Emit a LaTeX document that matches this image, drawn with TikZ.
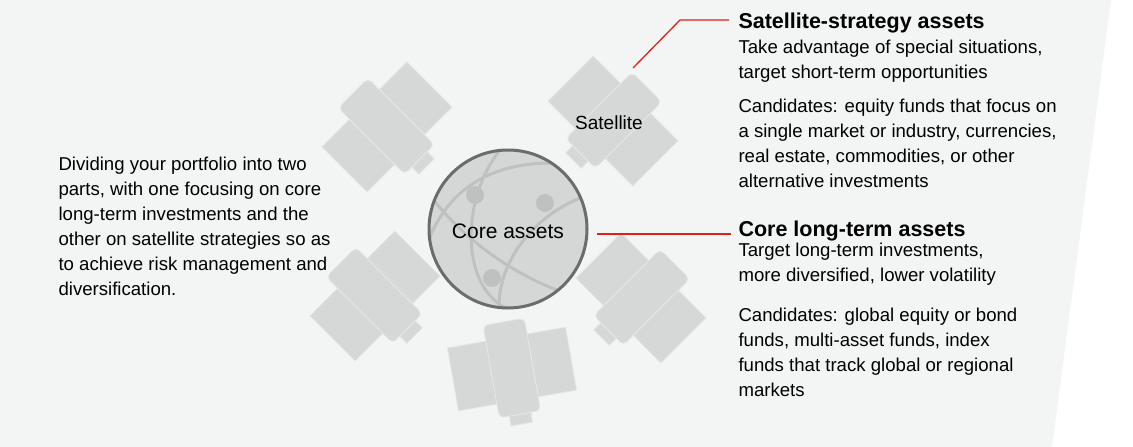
\documentclass[tikz,border=0pt]{standalone}
\usepackage{fontspec}
\setmainfont{Liberation Sans}
\definecolor{bgc}{HTML}{F3F4F4}
\definecolor{satc}{HTML}{D6D7D7}
\definecolor{satl}{HTML}{E6E7E6}
\definecolor{corec}{HTML}{D5D6D6}
\definecolor{coreline}{HTML}{BFC0C0}
\definecolor{redc}{HTML}{E0201B}
\tikzset{
  panel/.style={fill=satc,draw=satl,line width=0.8pt},
  sbody/.style={fill=satc,draw=satl,line width=0.8pt,rounded corners=5pt},
  pics/satellite/.style={code={
    \draw[panel] (-60,-32) rectangle (-19,32);
    \draw[panel] (19,-32) rectangle (60,32);
    \draw[panel] (-11,42) rectangle (11,56);
    \draw[sbody] (-21,-48) rectangle (21,46);
  }},
  txt/.style={anchor=north west,align=left,font=\fontsize{18.6}{25}\selectfont},
  head/.style={anchor=north west,align=left,font=\fontsize{21.5}{25}\selectfont\bfseries},
  redline/.style={draw=redc,line width=1.3pt}
}
\begin{document}
\begin{tikzpicture}[x=1pt,y=-1pt]
\useasboundingbox (0,0) rectangle (1133,447);
\fill[white] (0,0) rectangle (1133,447);
\fill[bgc] (0,0) -- (1111,0) -- (1052,447) -- (0,447) -- cycle;
% satellites
\pic[rotate=45] at (387,127) {satellite};
\pic[rotate=-45] at (613,121) {satellite};
\pic[rotate=45] at (375,296) {satellite};
\pic[rotate=-45] at (641,298) {satellite};
\pic[rotate=10] at (512,369) {satellite};
% core
\node[circle,minimum size=158pt,fill=corec,draw=none] (core) at (508,229) {};
\begin{scope}
\clip (508,229) circle (79);
\draw[coreline,line width=3pt] (420,270) .. controls (440,170) and (520,150) .. (610,170);
\draw[coreline,line width=3pt] (500,150) .. controls (460,200) and (460,290) .. (510,310);
\draw[coreline,line width=3pt] (620,190) .. controls (560,190) and (490,250) .. (500,320);
\draw[coreline,line width=3pt] (430,195) .. controls (470,250) and (540,290) .. (590,300);
\fill[coreline] (475,195) circle (9) (545,203) circle (9) (492,278) circle (9);
\end{scope}
\draw[gray!85!black,line width=3pt] (508,229) circle (79);
\node[font=\fontsize{21}{24}\selectfont] (corelbl) at (508,231) {Core assets};
\node[font=\fontsize{19}{22}\selectfont] (satlbl) at (609,123) {Satellite};
% left text
\node[txt] (lefttxt) at (55,153) {Dividing your portfolio into two\\parts, with one focusing on core\\long-term investments and the\\other on satellite strategies so as\\to achieve risk management and\\diversification.};
% right texts
\node[head] (sathead) at (735,9) {Satellite-strategy assets};
\node[txt] (sat1) at (735,36) {Take advantage of special situations,\\target short-term opportunities};
\node[txt] (sat2) at (735,95) {Candidates: equity funds that focus on\\a single market or industry, currencies,\\real estate, commodities, or other\\alternative investments};
\node[head] (corehead) at (735,217) {Core long-term assets};
\node[txt] (core1) at (735,239) {Target long-term investments,\\more diversified, lower volatility};
\node[txt] (core2) at (735,304) {Candidates: global equity or bond\\funds, multi-asset funds, index\\funds that track global or regional\\markets};
% connectors
\coordinate (s0) at (633,68);
\coordinate (s1) at (680,20);
\coordinate (c0) at (597,234);
\draw[redline] (s0) -- (s1) -- ([xshift=-6pt]sathead.west |- s1);
\draw[redline] (c0) -- ([xshift=-4pt]corehead.west |- c0);
\end{tikzpicture}
\end{document}
